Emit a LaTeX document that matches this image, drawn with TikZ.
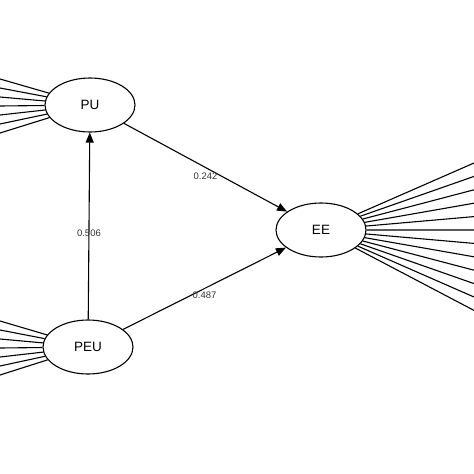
\documentclass[tikz,border=0pt]{standalone}
\usepackage{fontspec}
\setmainfont{Liberation Sans}
\usetikzlibrary{positioning,arrows.meta,shapes.geometric}

\begin{document}
\begin{tikzpicture}[x=1pt,y=-1pt,
                latent/.style = {draw, ellipse, line width=1.1pt, minimum width=90pt, minimum height=54pt,
                                 inner sep=0pt, font=\fontsize{13.5}{15}\selectfont},
                path/.style = {draw, line width=1.1pt, -{Triangle[length=10pt,width=8pt]}},
                load/.style = {draw, line width=1.1pt},
                coef/.style = {inner sep=0pt, text=black!80, font=\fontsize{9.5}{11}\selectfont}]
            \useasboundingbox (0,0) rectangle (474,474);
            \node[latent] (PU)  at (90,105)  {PU};
            \node[latent] (PEU) at (88,347)  {PEU};
            \node[latent] (EE)  at (321,230) {EE};
            % indicator lines, cut at the edge
            \foreach \i in {0,...,6} {
                \coordinate (pu\i) at (0,{79+9*\i});
                \draw[load] (PU) -- (pu\i);
                \coordinate (peu\i) at (0,{321+9*\i});
                \draw[load] (PEU) -- (peu\i);
            }
            \foreach \i in {0,...,11} {
                \coordinate (ee\i) at (474,{163+13.4*\i});
                \draw[load] (EE) -- (ee\i);
            }
            % structural paths
            \draw[path] (PEU) -- node[coef, pos=0.46] {0.506} (PU);
            \draw[path] (PU) -- node[coef, midway, below=5pt] {0.242} (EE);
            \draw[path] (PEU) -- node[coef, midway, below=3pt] {0.487} (EE);
\end{tikzpicture}
\end{document}
